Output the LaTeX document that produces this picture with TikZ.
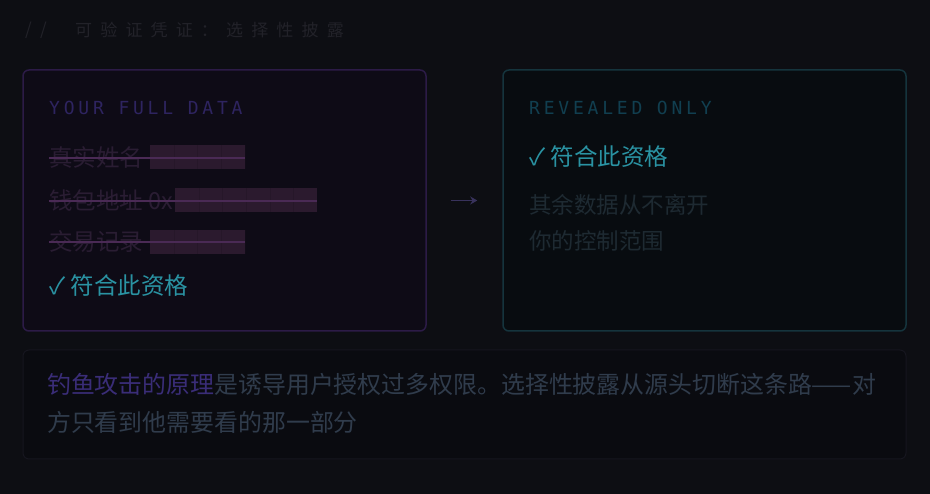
\documentclass[tikz,border=0pt]{standalone}
\usepackage{fontspec}
\setmainfont{Noto Sans CJK SC}
\newfontfamily\headmono{DejaVu Sans Mono}[LetterSpace=21]
\newfontfamily\titlecjk{Noto Sans CJK SC}[LetterSpace=48]
\usetikzlibrary{arrows.meta}

\definecolor{bg}{HTML}{0D0E13}
\definecolor{fullfill}{HTML}{0E0B16}
\definecolor{fullborder}{HTML}{2C1B47}
\definecolor{revfill}{HTML}{080C10}
\definecolor{revborder}{HTML}{15343D}
\definecolor{notefill}{HTML}{0A0B10}
\definecolor{noteborder}{HTML}{16161F}
\definecolor{fullhead}{HTML}{2E2460}
\definecolor{revhead}{HTML}{113F50}
\definecolor{gonetext}{HTML}{2A1D33}
\definecolor{strikeline}{HTML}{4A2A55}
\definecolor{redfill}{HTML}{2B1A2E}
\definecolor{redgrid}{HTML}{261729}
\definecolor{checkteal}{HTML}{2A93A3}
\definecolor{resttext}{HTML}{1E2A32}
\definecolor{arrowc}{HTML}{38325C}
\definecolor{titlegray}{HTML}{222229}
\definecolor{notetext}{HTML}{303C4C}
\definecolor{notehl}{HTML}{3A2D78}

\begin{document}
\begin{tikzpicture}[x=1pt,y=-1pt]

  % styles for cards, headings and the struck-out rows
  \tikzset{
      card/.style={draw, rounded corners=6pt, line width=1.5pt, inner sep=0pt},
      head/.style={anchor=west, inner sep=0pt, font=\headmono\fontsize{18}{18}\selectfont},
      item/.style={anchor=west, inner sep=0pt, font=\fontsize{23.5}{28}\selectfont},
      rest/.style={anchor=west, inner sep=0pt, text=resttext, font=\fontsize{22.5}{28}\selectfont},
      redact/.style={anchor=west, inner sep=0pt, fill=redfill, minimum height=24pt,
          path picture={\foreach \k in {1,...,5}
              \draw[redgrid, line width=0.6pt]
                  ([xshift=\k*23.7pt]path picture bounding box.south west) --
                  ([xshift=\k*23.7pt]path picture bounding box.north west);}},
      strike/.style={draw=strikeline, line width=2pt},
      titletext/.style={anchor=west, inner sep=0pt, text=titlegray,
          font=\titlecjk\fontsize{17}{17}\selectfont}
  }

  \useasboundingbox[fill=bg] (0,0) rectangle (930,494);

  % title
  \node[titletext] (slashes) at (25,30) {//};
  \node[titletext] (title) at (75,30) {可验证凭证：选择性披露};

  % the two cards and the note
  \node[card, draw=fullborder, fill=fullfill, minimum width=403pt, minimum height=261pt] (full) at (224.5,200.5) {};
  \node[card, draw=revborder, fill=revfill, minimum width=403pt, minimum height=261pt] (revealed) at (704.5,200.5) {};
  \node[card, draw=noteborder, fill=notefill, line width=1pt, minimum width=883pt, minimum height=109pt] (note) at (464.5,404.5) {};

  \draw[-{Stealth[length=7pt,width=8pt]}, draw=arrowc, line width=1.3pt,
        shorten <=24pt, shorten >=25pt] (full.east) -- (revealed.west);

  % full data card
  \node[head, text=fullhead] (fullhd) at (49,108) {YOUR FULL DATA};

  \node[item, text=gonetext] (name) at (49,157) {真实姓名};
  \node[redact, minimum width=95pt] (nameblk) at (150,157) {};
  \draw[strike] ([yshift=-1pt]name.west) -- ([yshift=-1pt]nameblk.east);

  \node[item, text=gonetext] (wallet) at (49,200) {钱包地址 0x};
  \node[redact, minimum width=142pt] (walletblk) at (175,200) {};
  \draw[strike] ([yshift=-1pt]wallet.west) -- ([yshift=-1pt]walletblk.east);

  \node[item, text=gonetext] (history) at (49,242) {交易记录};
  \node[redact, minimum width=95pt] (historyblk) at (150,242) {};
  \draw[strike] (history.west) -- (historyblk.east);

  \node[item, text=checkteal] (fullok) at (49,286) {✓ 符合此资格};

  % revealed card
  \node[head, text=revhead] (revhd) at (529,108) {REVEALED ONLY};
  \node[item, text=checkteal] (revok) at (529,157) {✓ 符合此资格};
  \node[rest] (rest1) at (529,205) {其余数据从不离开};
  \node[rest] (rest2) at (529,241) {你的控制范围};

  % note
  \node[anchor=north west, align=left, inner sep=0pt, text=notetext,
        font=\fontsize{23.9}{38.5}\selectfont] (notetxt) at (47,373)
      {\textcolor{notehl}{钓鱼攻击的原理}是诱导用户授权过多权限。选择性披露从源头切断这条路——对\\
       方只看到他需要看的那一部分};

\end{tikzpicture}
\end{document}
